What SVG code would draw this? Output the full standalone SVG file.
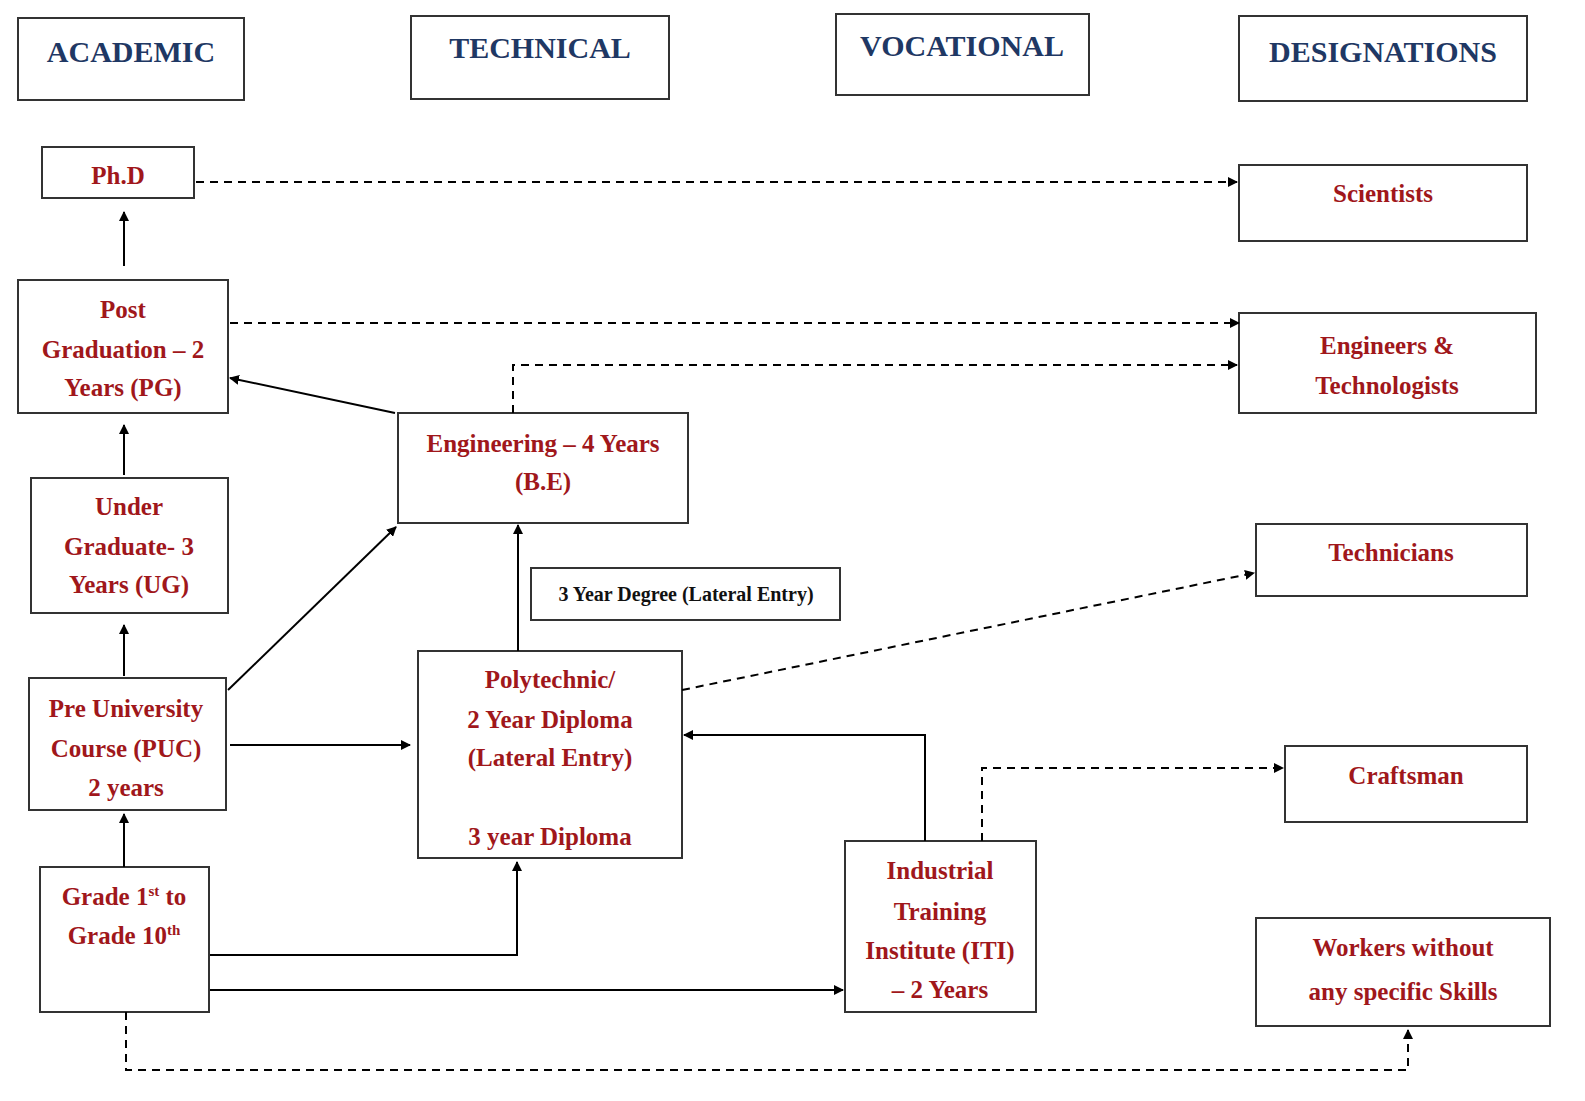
<svg xmlns="http://www.w3.org/2000/svg" width="1585" height="1101" viewBox="0 0 1585 1101">
<defs>
<marker id="ah" markerWidth="10" markerHeight="10" refX="9" refY="5" orient="auto" markerUnits="userSpaceOnUse"><path d="M0,0 L10,5 L0,10 z" fill="#000"/></marker>
<style>
rect{fill:#fff;stroke:#333;stroke-width:2}
text{font-family:"Liberation Serif",serif;font-weight:bold;text-anchor:middle}
.h{fill:#1f3864;font-size:30px}
.n{fill:#a0171b;font-size:25px}
.s{fill:#111;font-size:20px}
.c{fill:none;stroke:#000;stroke-width:2;marker-end:url(#ah)}
.d{stroke-dasharray:8,6}
</style>
</defs>
<rect width="1585" height="1101" style="stroke:none"/>
<g id="academic"><rect x="18" y="18" width="226" height="82"/><text class="h" x="131" y="62">ACADEMIC</text></g>
<g id="technical"><rect x="411" y="16" width="258" height="83"/><text class="h" x="540" y="58">TECHNICAL</text></g>
<g id="vocational"><rect x="836" y="14" width="253" height="81"/><text class="h" x="962" y="56">VOCATIONAL</text></g>
<g id="designations"><rect x="1239" y="16" width="288" height="85"/><text class="h" x="1383" y="62">DESIGNATIONS</text></g>
<g id="phd"><rect x="42" y="147" width="152" height="51"/><text class="n" x="118" y="184">Ph.D</text></g>
<g id="scientists"><rect x="1239" y="165" width="288" height="76"/><text class="n" x="1383" y="202">Scientists</text></g>
<g id="pg"><rect x="18" y="280" width="210" height="133"/><text class="n" x="123" y="318">Post</text><text class="n" x="123" y="358">Graduation – 2</text><text class="n" x="123" y="396">Years (PG)</text></g>
<g id="engineers"><rect x="1239" y="313" width="297" height="100"/><text class="n" x="1387" y="354">Engineers &amp;</text><text class="n" x="1387" y="394">Technologists</text></g>
<g id="engineering"><rect x="398" y="413" width="290" height="110"/><text class="n" x="543" y="452">Engineering – 4 Years</text><text class="n" x="543" y="490">(B.E)</text></g>
<g id="ug"><rect x="31" y="478" width="197" height="135"/><text class="n" x="129" y="515">Under</text><text class="n" x="129" y="555">Graduate- 3</text><text class="n" x="129" y="593">Years (UG)</text></g>
<g id="technicians"><rect x="1256" y="524" width="271" height="72"/><text class="n" x="1391" y="561">Technicians</text></g>
<g id="lateral"><rect x="531" y="568" width="309" height="52"/><text class="s" x="686" y="601">3 Year Degree (Lateral Entry)</text></g>
<g id="poly"><rect x="418" y="651" width="264" height="207"/><text class="n" x="550" y="688">Polytechnic/</text><text class="n" x="550" y="728">2 Year Diploma</text><text class="n" x="550" y="766">(Lateral Entry)</text><text class="n" x="550" y="845">3 year Diploma</text></g>
<g id="puc"><rect x="29" y="678" width="197" height="132"/><text class="n" x="126" y="717">Pre University</text><text class="n" x="126" y="757">Course (PUC)</text><text class="n" x="126" y="796">2 years</text></g>
<g id="craftsman"><rect x="1285" y="746" width="242" height="76"/><text class="n" x="1406" y="784">Craftsman</text></g>
<g id="grade"><rect x="40" y="867" width="169" height="145"/><text class="n" x="124" y="905">Grade 1<tspan dy="-9" font-size="15">st</tspan><tspan dy="9"> to</tspan></text><text class="n" x="124" y="944">Grade 10<tspan dy="-9" font-size="15">th</tspan></text></g>
<g id="iti"><rect x="845" y="841" width="191" height="171"/><text class="n" x="940" y="879">Industrial</text><text class="n" x="940" y="920">Training</text><text class="n" x="940" y="959">Institute  (ITI)</text><text class="n" x="940" y="998">– 2 Years</text></g>
<g id="workers"><rect x="1256" y="918" width="294" height="108"/><text class="n" x="1403" y="956">Workers without</text><text class="n" x="1403" y="1000">any specific Skills</text></g>
<g id="connectors">
<path class="c" d="M124,266 L124,212"/>
<path class="c d" d="M196,182 L1237,182"/>
<path class="c d" d="M230,323 L1239,323"/>
<path class="c d" d="M513,413 L513,365 L1237,365"/>
<path class="c" d="M395,413 L230,378"/>
<path class="c" d="M124,475 L124,425"/>
<path class="c" d="M124,676 L124,625"/>
<path class="c" d="M228,690 L396,527"/>
<path class="c" d="M230,745 L410,745"/>
<path class="c" d="M518,651 L518,525"/>
<path class="c d" d="M682,690 L1254,573"/>
<path class="c" d="M925,841 L925,735 L684,735"/>
<path class="c d" d="M982,841 L982,768 L1283,768"/>
<path class="c" d="M124,867 L124,814"/>
<path class="c" d="M210,955 L517,955 L517,862"/>
<path class="c" d="M210,990 L843,990"/>
<path class="c d" d="M126,1012 L126,1070 L1408,1070 L1408,1030"/>
</g>
</svg>
